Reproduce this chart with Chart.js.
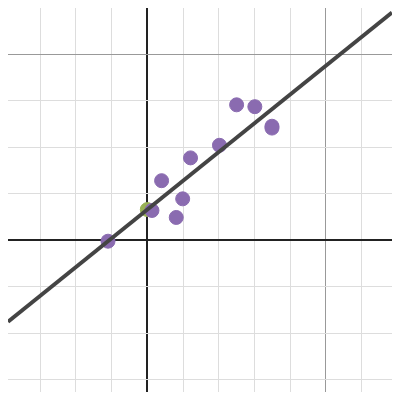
<!DOCTYPE html>
<html><head><script src="https://cdn.jsdelivr.net/npm/chart.js"></script>
<style>html,body{margin:0;padding:0;background:#fff}</style></head>
<body><div style="width:400px;height:400px"><canvas id="c"></canvas></div>
<script>
var xs = [-1.10, 0.13, 0.40, 0.81, 0.99, 1.21, 2.02, 2.50, 3.01, 3.49, 3.49];
var ys = [-0.02, 0.64, 1.28, 0.49, 0.89, 1.77, 2.04, 2.91, 2.87, 2.45, 2.41];
var slope = 0.618, intercept = 0.66;
var xMin = -3.9, xMax = 6.85, yMin = -3.26, yMax = 4.99;

var pts = xs.map(function(x, i) { return {x: x, y: ys[i]}; });
var fit = [{x: xMin, y: slope * xMin + intercept}, {x: xMax, y: slope * xMax + intercept}];

function intTicks(axis) {
	var t = [];
	for (var v = Math.ceil(axis.min); v <= Math.floor(axis.max); v++) t.push({value: v});
	axis.ticks = t;
}
function gridColor(major) {
	return function(ctx) {
		var v = ctx.tick.value;
		if (v === 0) return '#222';
		if (v % major === 0) return '#999';
		return '#ddd';
	};
}
function gridWidth(ctx) { return ctx.tick.value === 0 ? 2 : 1; }

new Chart(document.getElementById('c'), {
	type: 'scatter',
	data: {
		datasets: [
			{ data: fit, showLine: true, borderColor: '#444', borderWidth: 4, pointRadius: 0 },
			{ data: pts, backgroundColor: '#8a6bb0', borderColor: '#8a6bb0', pointRadius: 7 },
			{ data: [{x: 0, y: intercept}], backgroundColor: '#98b155', borderColor: '#98b155', pointRadius: 7 }
		]
	},
	options: {
		responsive: true, maintainAspectRatio: false, animation: false,
		layout: { padding: 0 },
		plugins: { legend: { display: false }, tooltip: { enabled: false } },
		scales: {
			x: { type: 'linear', min: xMin, max: xMax, afterBuildTicks: intTicks,
				ticks: { display: false }, border: { display: false },
				grid: { color: gridColor(5), lineWidth: gridWidth, drawTicks: false } },
			y: { type: 'linear', min: yMin, max: yMax, afterBuildTicks: intTicks,
				ticks: { display: false }, border: { display: false },
				grid: { color: gridColor(4), lineWidth: gridWidth, drawTicks: false } }
		}
	}
});
</script></body></html>
